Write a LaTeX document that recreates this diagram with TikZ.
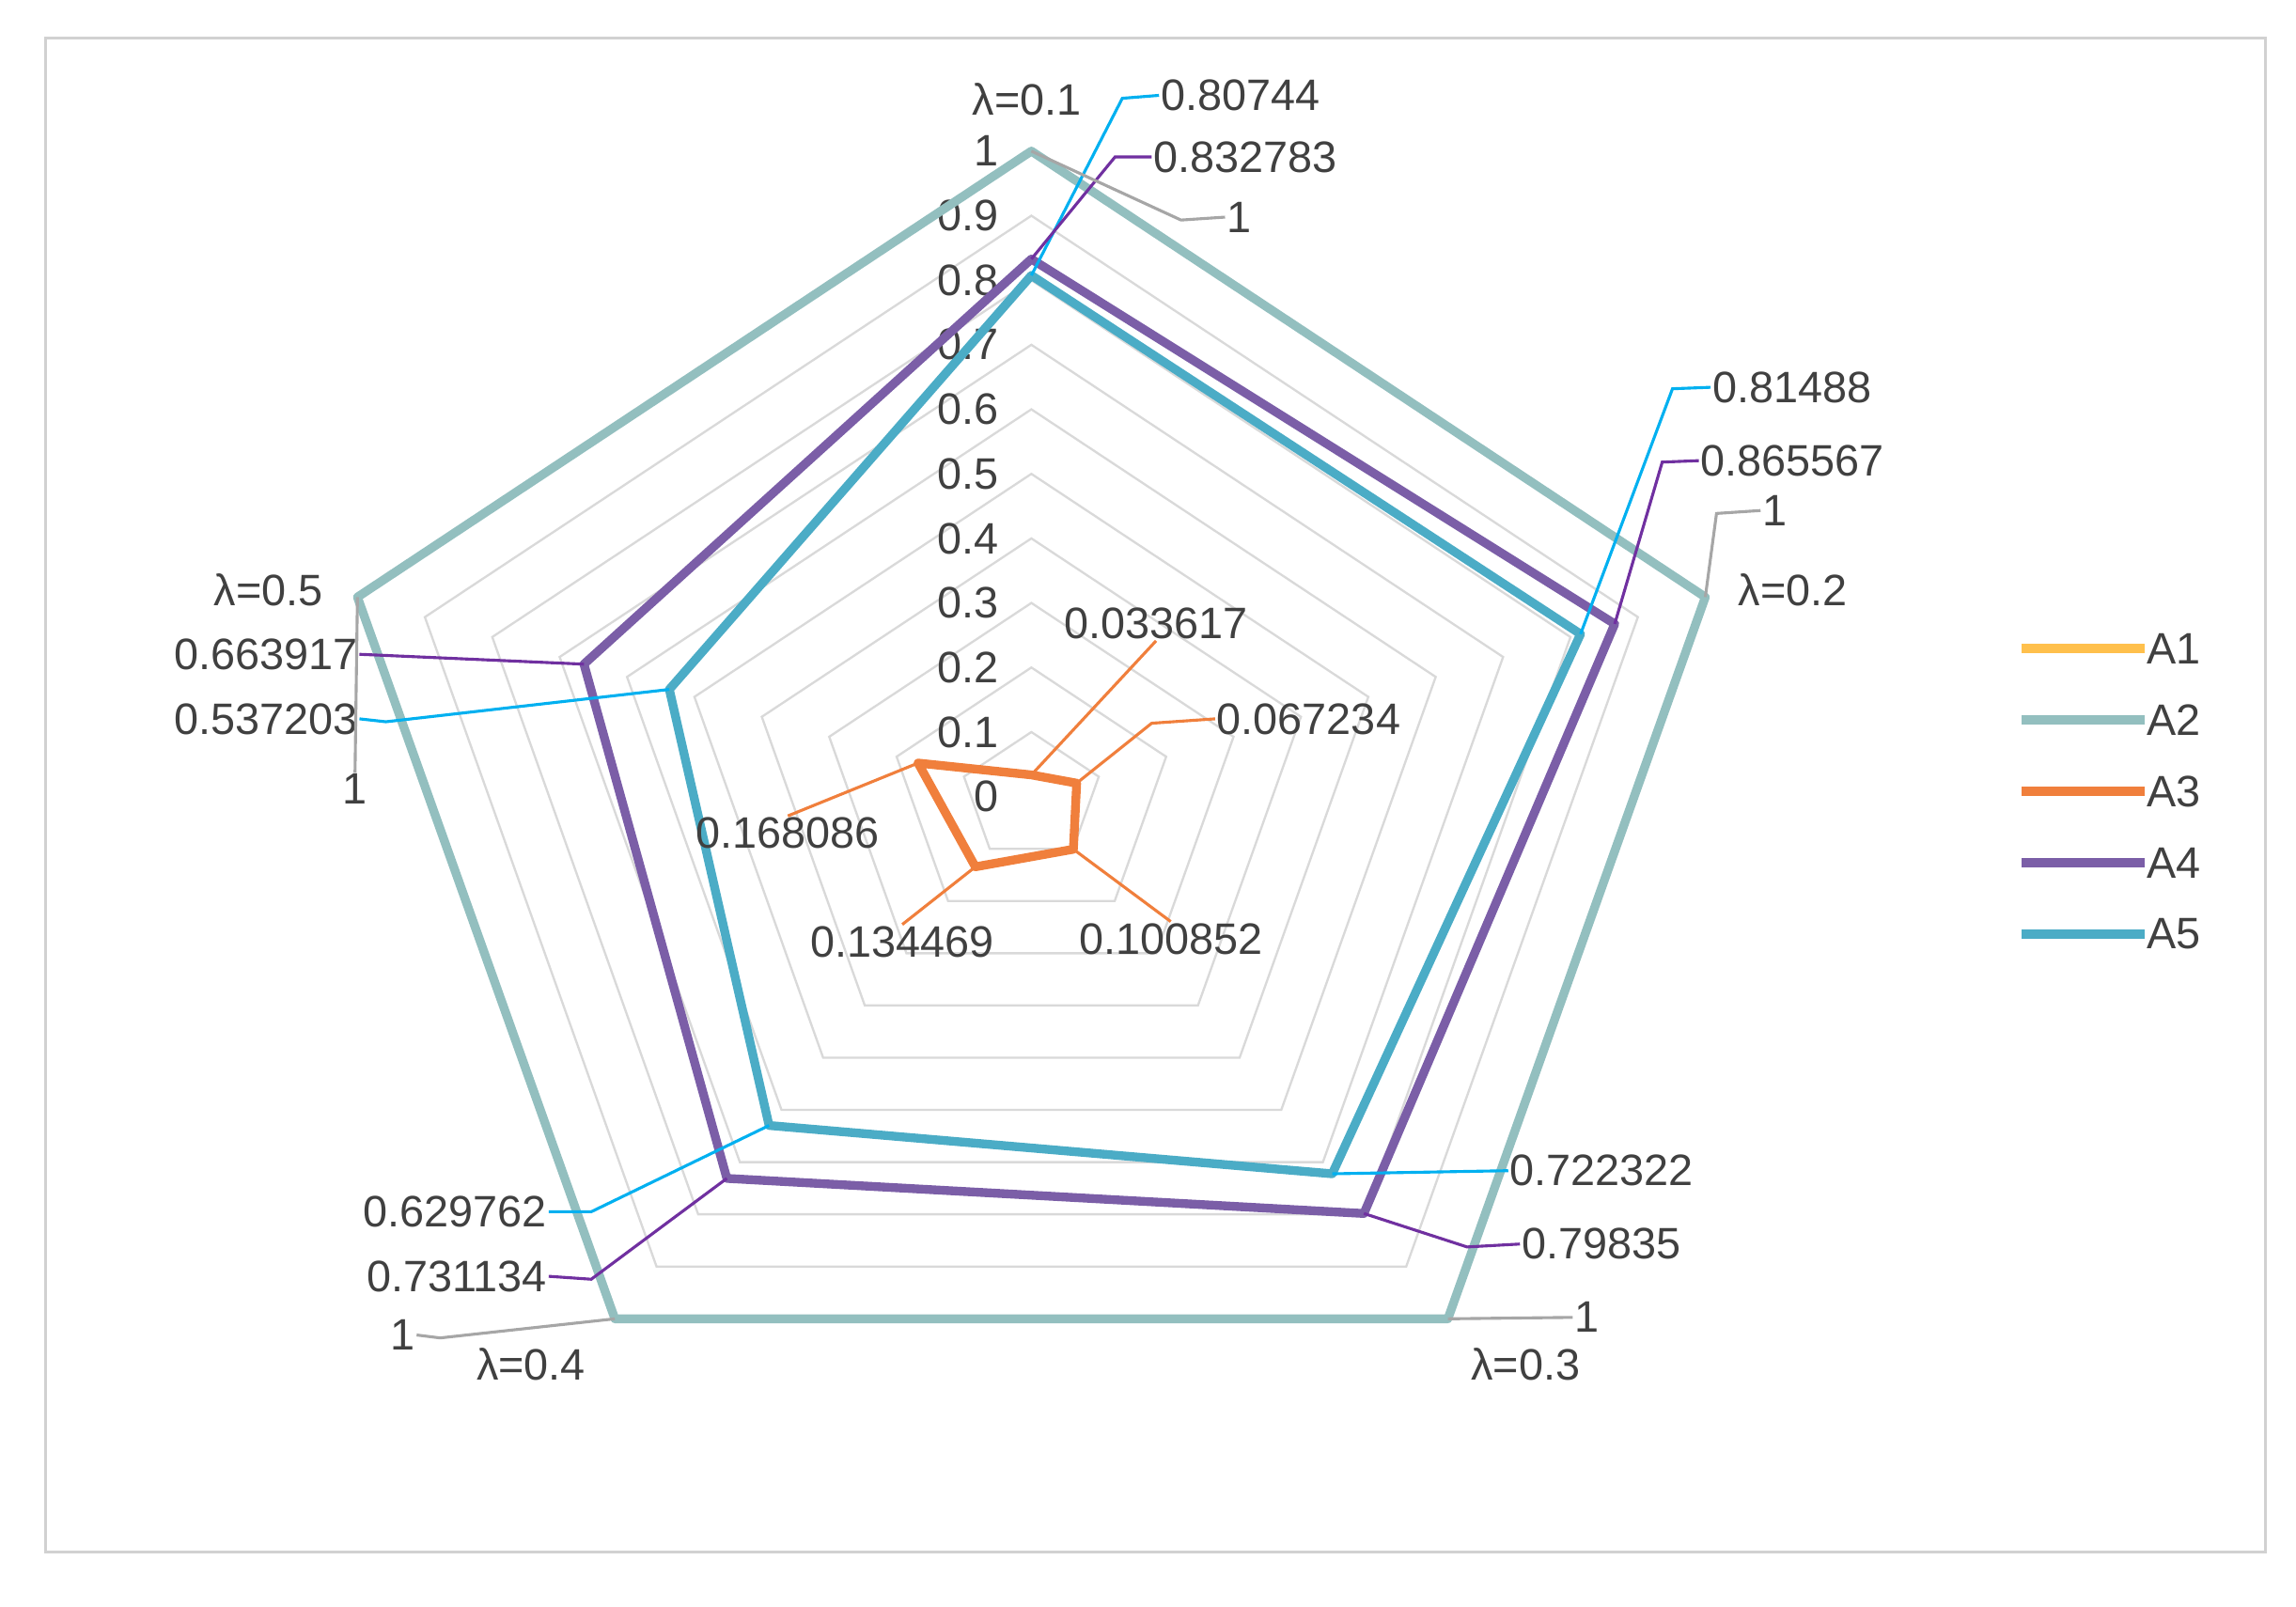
\documentclass[tikz,border=0pt]{standalone}
\usepackage{fontspec}
\setmainfont{Liberation Sans}
\definecolor{cA1}{HTML}{FFC04C}
\definecolor{cA2}{HTML}{93BFBF}
\definecolor{cA3}{HTML}{F07F3C}
\definecolor{cA4}{HTML}{7B5EA7}
\definecolor{cA5}{HTML}{4BACC6}
\definecolor{lA5}{HTML}{00B0F0}
\definecolor{lA4}{HTML}{7030A0}
\definecolor{lA2}{HTML}{A6A6A6}
\definecolor{txt}{HTML}{404040}
\newcommand\rp[2]{({703+#1*483*sin(72*#2)},{543-#1*440*cos(72*#2)})}
\newcommand\mkpt[3]{\path \rp{#2}{#3} coordinate (#1);}
\begin{document}
\begin{tikzpicture}[x=1pt,y=-1pt,
  lab/.style={text=txt,font=\fontsize{30}{34}\selectfont,inner sep=1pt},
  gridl/.style={draw=black!15,line width=1.5pt},
  ser/.style={line width=6pt,line join=round},
  lead/.style={line width=2pt}]
\useasboundingbox (0,0) rectangle (1565,1095);
\node[draw=black!18,line width=2pt,minimum width=1513pt,minimum height=1032pt,anchor=north west] (frame) at (30,25) {};
\foreach \r in {0.1,0.2,...,1.0}{
  \draw[gridl] \rp{\r}{0} -- \rp{\r}{1} -- \rp{\r}{2} -- \rp{\r}{3} -- \rp{\r}{4} -- cycle;}
% axis labels
\foreach \v/\t in {0/0,1/0.1,2/0.2,3/0.3,4/0.4,5/0.5,6/0.6,7/0.7,8/0.8,9/0.9,10/1}{
  \node[lab,anchor=east] (ax\v) at (682,{543-\v*44}) {\t};}
% series
\draw[cA2,ser] \rp{1}{0} -- \rp{1}{1} -- \rp{1}{2} -- \rp{1}{3} -- \rp{1}{4} -- cycle;
\draw[cA4,ser] \rp{0.832783}{0} -- \rp{0.865567}{1} -- \rp{0.79835}{2} -- \rp{0.731134}{3} -- \rp{0.663917}{4} -- cycle;
\draw[cA5,ser] \rp{0.80744}{0} -- \rp{0.81488}{1} -- \rp{0.722322}{2} -- \rp{0.629762}{3} -- \rp{0.537203}{4} -- cycle;
\draw[cA3,ser] \rp{0.033617}{0} -- \rp{0.067234}{1} -- \rp{0.100852}{2} -- \rp{0.134469}{3} -- \rp{0.168086}{4} -- cycle;
% points
\mkpt{p20}{1}{0}\mkpt{p21}{1}{1}\mkpt{p22}{1}{2}\mkpt{p23}{1}{3}\mkpt{p24}{1}{4}
\mkpt{p40}{0.832783}{0}\mkpt{p41}{0.865567}{1}\mkpt{p42}{0.79835}{2}\mkpt{p43}{0.731134}{3}\mkpt{p44}{0.663917}{4}
\mkpt{p50}{0.80744}{0}\mkpt{p51}{0.81488}{1}\mkpt{p52}{0.722322}{2}\mkpt{p53}{0.629762}{3}\mkpt{p54}{0.537203}{4}
\mkpt{p30}{0.033617}{0}\mkpt{p31}{0.067234}{1}\mkpt{p32}{0.100852}{2}\mkpt{p33}{0.134469}{3}\mkpt{p34}{0.168086}{4}
% category labels
\node[lab] (c1) at (700,68) {λ=0.1};
\node[lab] (c2) at (1222,402) {λ=0.2};
\node[lab] (c3) at (1040,930) {λ=0.3};
\node[lab] (c4) at (362,930) {λ=0.4};
\node[lab] (c5) at (183,402) {λ=0.5};
% top
\node[lab,anchor=west] (l50) at (790,65) {0.80744};
\node[lab,anchor=west] (l40) at (785,107) {0.832783};
\node[lab,anchor=west] (l20) at (835,148) {1};
\draw[lead,lA5] (p50) -- (765,67) -- (l50.west);
\draw[lead,lA4] (p40) -- (760,107) -- (l40.west);
\draw[lead,lA2] (p20) -- (805,150) -- (l20.west);
% right
\node[lab,anchor=west] (l51) at (1166,264) {0.81488};
\node[lab,anchor=west] (l41) at (1158,314) {0.865567};
\node[lab,anchor=west] (l21) at (1200,348) {1};
\draw[lead,lA5] (p51) -- (1140,265) -- (l51.west);
\draw[lead,lA4] (p41) -- (1133,315) -- (l41.west);
\draw[lead,lA2] (p21) -- (1170,350) -- (l21.west);
% bottom right
\node[lab,anchor=west] (l52) at (1028,798) {0.722322};
\node[lab,anchor=west] (l42) at (1036,848) {0.79835};
\node[lab,anchor=west] (l22) at (1072,898) {1};
\draw[lead,lA5] (p52) -- (l52.west);
\draw[lead,lA4] (p42) -- (1000,850) -- (l42.west);
\draw[lead,lA2] (p22) -- (l22.west);
% bottom left
\node[lab,anchor=east] (l53) at (374,826) {0.629762};
\node[lab,anchor=east] (l43) at (374,870) {0.731134};
\node[lab,anchor=east] (l23) at (284,910) {1};
\draw[lead,lA5] (p53) -- (403,826) -- (l53.east);
\draw[lead,lA4] (p43) -- (403,872) -- (l43.east);
\draw[lead,lA2] (p23) -- (300,912) -- (l23.east);
% left
\node[lab,anchor=east] (l54) at (245,490) {0.537203};
\node[lab,anchor=east] (l44) at (245,446) {0.663917};
\node[lab] (l24) at (242,538) {1};
\draw[lead,lA5] (p54) -- (263,492) -- (l54.east);
\draw[lead,lA4] (p44) -- (l44.east);
\draw[lead,lA2] (p24) -- (l24.north);
% A3 labels
\node[lab] (l30) at (788,425) {0.033617};
\node[lab] (l31) at (892,490) {0.067234};
\node[lab] (l32) at (798,640) {0.100852};
\node[lab] (l33) at (615,642) {0.134469};
\node[lab] (l34) at (537,568) {0.168086};
\draw[lead,cA3] (p30) -- (l30.south);
\draw[lead,cA3] (p31) -- (785,493) -- (l31.west);
\draw[lead,cA3] (p32) -- (l32.north);
\draw[lead,cA3] (p33) -- (l33.north);
\draw[lead,cA3] (p34) -- (l34.north);
% legend
\foreach \c/\n [count=\i from 0] in {cA1/A1,cA2/A2,cA3/A3,cA4/A4,cA5/A5}{
  \coordinate (g\i a) at (1378,{442+\i*48.7});
  \node[lab,anchor=west] (g\i) at (1462,{442+\i*48.7}) {\n};
  \draw[\c,line width=6pt] (g\i a) -- (g\i.west);}
\end{tikzpicture}
\end{document}
